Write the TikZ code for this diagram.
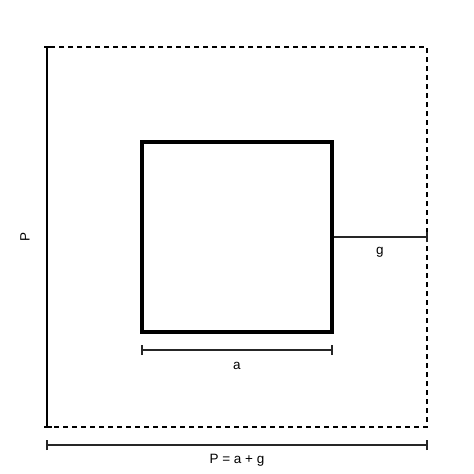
\documentclass[tikz,border=0pt]{standalone}
\usepackage{fontspec}
\setmainfont{Liberation Sans}
\begin{document}
\begin{tikzpicture}[x=1pt,y=-1pt,
  dimline/.style={line width=1.5pt, color=black!85},
  lbl/.style={font=\fontsize{13.5}{15}\selectfont, inner sep=0pt}]
\useasboundingbox (0,0) rectangle (474,474);
% outer dashed square
\draw[line width=1.5pt, dash pattern=on 5pt off 4pt] (47,47) rectangle (427,427);
% inner square
\node[draw, line width=3.2pt, minimum width=190pt, minimum height=190pt, inner sep=0pt] (sq) at (237,237) {};
% left P dimension
\coordinate (pt) at (47,47);
\coordinate (pb) at (47,427);
\draw[line width=2pt] (pt) -- (pb);
\draw[line width=2pt] ([xshift=-3pt]pt) -- ([xshift=5pt]pt);
\draw[line width=2pt] ([xshift=-3pt]pb) -- ([xshift=5pt]pb);
\node[lbl, rotate=90] (plbl) at (25,237) {P};
% g dimension
\coordinate (gr) at (427,237);
\draw[dimline] (sq.east) -- (gr);
\draw[dimline] ([yshift=-5pt]gr) -- ([yshift=5pt]gr);
\node[lbl] (glbl) at (380,252) {g};
% a dimension
\coordinate (al) at (142,350);
\coordinate (ar) at (332,350);
\draw[dimline] (al) -- (ar);
\draw[dimline] ([yshift=-5pt]al) -- ([yshift=5pt]al);
\draw[dimline] ([yshift=-5pt]ar) -- ([yshift=5pt]ar);
\node[lbl] (albl) at (237,365.5) {a};
% bottom P = a + g dimension
\coordinate (bl) at (47,445);
\coordinate (br) at (427,445);
\draw[dimline] (bl) -- (br);
\draw[dimline] ([yshift=-5pt]bl) -- ([yshift=5pt]bl);
\draw[dimline] ([yshift=-5pt]br) -- ([yshift=5pt]br);
\node[lbl] (blbl) at (237,460.5) {P = a + g};
\end{tikzpicture}
\end{document}
